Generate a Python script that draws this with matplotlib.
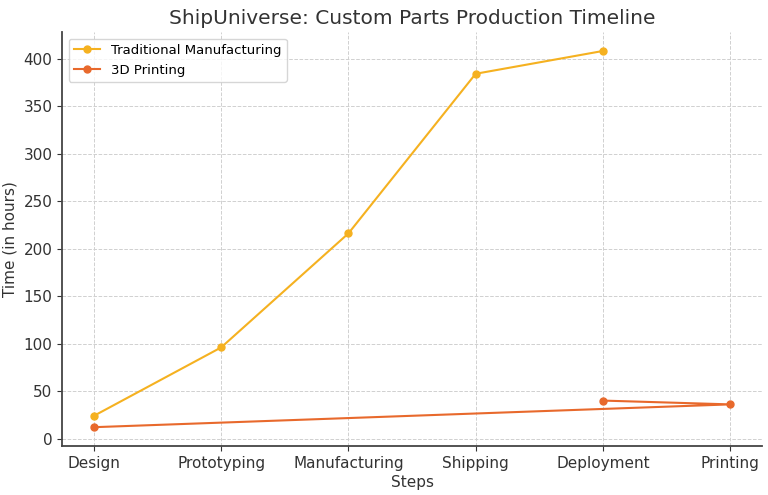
import matplotlib
matplotlib.use("Agg")
from matplotlib import pyplot as plt

# Production timeline data (hours)
trad_steps = ['Design', 'Prototyping', 'Manufacturing', 'Shipping', 'Deployment']
trad_hours = [24, 96, 216, 384, 408]

print_steps = ['Design', 'Printing', 'Deployment']
print_hours = [12, 36, 40]

fig, ax = plt.subplots(figsize=(7.68, 4.95), dpi=100)

ax.plot(trad_steps, trad_hours, marker='o', markersize=5, linewidth=1.5,
        color='#F5B120', label='Traditional Manufacturing')
ax.plot(print_steps, print_hours, marker='o', markersize=5, linewidth=1.5,
        color='#E8692C', label='3D Printing')

ax.set_title('ShipUniverse: Custom Parts Production Timeline', fontsize=14.5, color='#333333')
ax.set_xlabel('Steps', fontsize=11, color='#333333', labelpad=3)
ax.set_ylabel('Time (in hours)', fontsize=11, color='#333333')

ax.grid(True, linestyle='--', linewidth=0.7, color='#d0d0d0')
for side in ['top', 'right']:
    ax.spines[side].set_visible(False)
for side in ['left', 'bottom']:
    ax.spines[side].set_color('#444444')
    ax.spines[side].set_linewidth(1.3)
ax.tick_params(labelsize=11, colors='#333333')

ax.legend(loc='upper left', fontsize=9.5)

plt.subplots_adjust(left=0.081, right=0.992, top=0.935, bottom=0.099)
plt.savefig('out.png')
